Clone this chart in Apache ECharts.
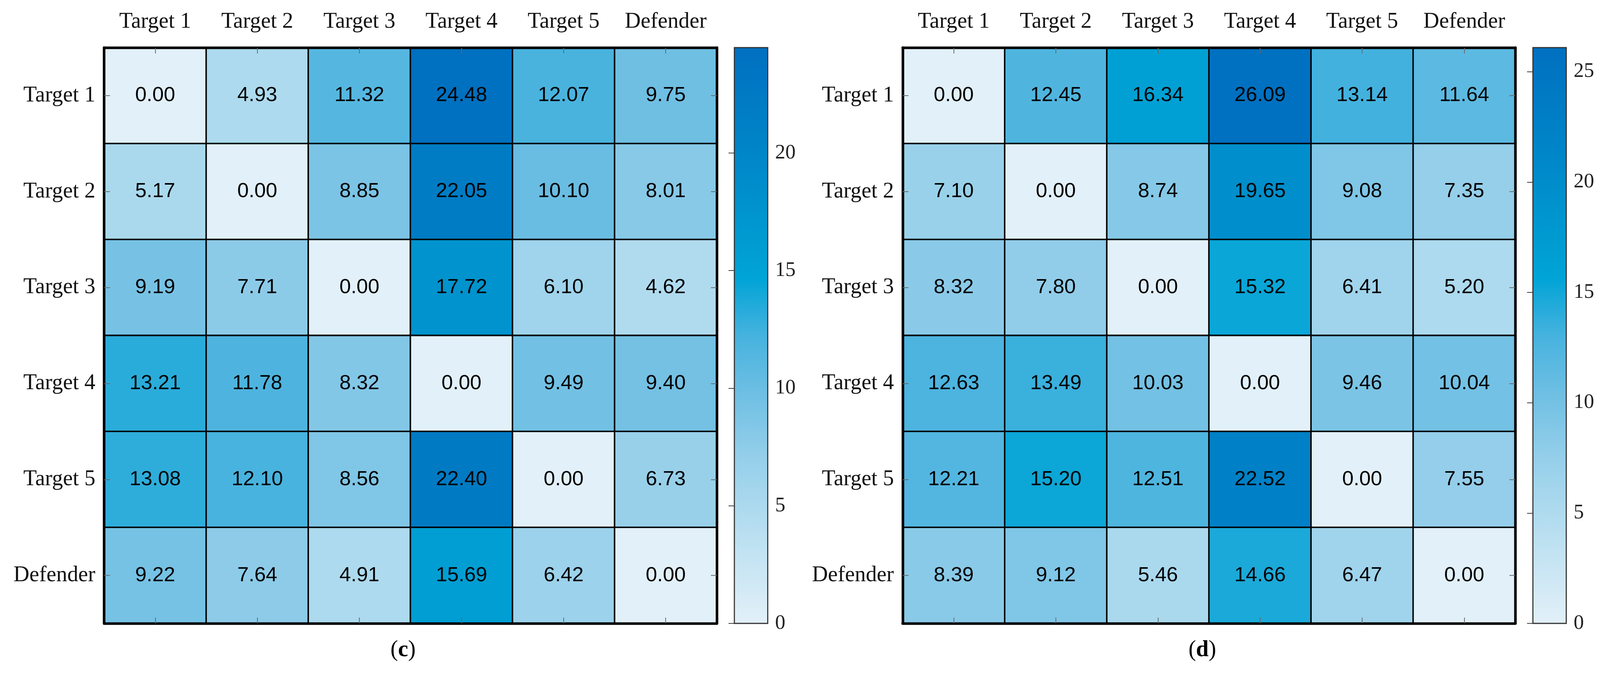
<!DOCTYPE html>
<html>
<head>
<meta charset="utf-8">
<script src="https://cdn.jsdelivr.net/npm/echarts@6/dist/echarts.min.js"></script>
<style>
html,body{margin:0;padding:0;background:#fff;overflow:hidden;}
#chart{width:100vw;height:100vh;}
</style>
</head>
<body>
<div id="chart"></div>
<script>
const categories = ['Target 1', 'Target 2', 'Target 3', 'Target 4', 'Target 5', 'Defender'];

const valuesC = [
  [0.00, 4.93, 11.32, 24.48, 12.07, 9.75],
  [5.17, 0.00, 8.85, 22.05, 10.10, 8.01],
  [9.19, 7.71, 0.00, 17.72, 6.10, 4.62],
  [13.21, 11.78, 8.32, 0.00, 9.49, 9.40],
  [13.08, 12.10, 8.56, 22.40, 0.00, 6.73],
  [9.22, 7.64, 4.91, 15.69, 6.42, 0.00]
];

const valuesD = [
  [0.00, 12.45, 16.34, 26.09, 13.14, 11.64],
  [7.10, 0.00, 8.74, 19.65, 9.08, 7.35],
  [8.32, 7.80, 0.00, 15.32, 6.41, 5.20],
  [12.63, 13.49, 10.03, 0.00, 9.46, 10.04],
  [12.21, 15.20, 12.51, 22.52, 0.00, 7.55],
  [8.39, 9.12, 5.46, 14.66, 6.47, 0.00]
];

const colorbarInterval = 5;
const panelTitles = ['c', 'd'];

const colorStops = ['#E2F0F9', '#C8E5F3', '#ADDAEE', '#91CDE9', '#6EBFE3', '#46B2DE',
                    '#00A4D6', '#0096CF', '#0088C9', '#007CC4', '#0070C0'];

function toCells(rows) {
  const out = [];
  rows.forEach((row, r) => row.forEach((v, c) => out.push([c, r, v])));
  return out;
}
function maxOf(rows) { return Math.max(...rows.flat()); }

const serif = 'Liberation Serif';
const sans = 'Liberation Sans';

const el = document.getElementById('chart');
const W = el.clientWidth || window.innerWidth;
const H = el.clientHeight || window.innerHeight;
const sx = W / 4364, sy = H / 1742, sf = Math.min(sx, sy);
const X = v => v * sx, Y = v => v * sy, F = v => v * sf;

const panels = [
  { data: valuesC, gridLeft: 284, barLeft: 2003, titleX: 1094 },
  { data: valuesD, gridLeft: 2462, barLeft: 4181, titleX: 3274 }
];
const gridTop = 122, gridW = 1671, gridH = 1475, barW = 91;

const option = {
  backgroundColor: '#fff',
  animation: false,
  title: [],
  grid: [],
  xAxis: [],
  yAxis: [],
  visualMap: [],
  series: []
};

panels.forEach((p, i) => {
  const gi = option.grid.length;
  option.grid.push({ left: X(p.gridLeft), top: Y(gridTop), width: X(gridW), height: Y(gridH) });
  option.grid.push({ left: X(p.barLeft), top: Y(gridTop), width: X(barW), height: Y(gridH),
    show: true, borderColor: '#333', borderWidth: F(3), backgroundColor: 'transparent', z: 10 });

  const frameLine = { show: true, onZero: false, lineStyle: { color: '#000', width: F(7) } };
  const tick = { show: true, inside: true, alignWithLabel: true, length: F(16), lineStyle: { color: '#666', width: F(2) } };
  const catLabel = { fontFamily: serif, fontSize: F(60), color: '#111' };

  const xTop = option.xAxis.length;
  option.xAxis.push({ type: 'category', gridIndex: gi, position: 'top', data: categories, z: 10,
    axisLine: frameLine, axisTick: tick, splitLine: { show: false },
    axisLabel: Object.assign({ margin: F(40), interval: 0 }, catLabel) });
  option.xAxis.push({ type: 'category', gridIndex: gi, position: 'bottom', data: categories, z: 10,
    axisLine: frameLine, axisTick: tick, axisLabel: { show: false }, splitLine: { show: false } });
  option.xAxis.push({ type: 'value', gridIndex: gi + 1, show: false, min: 0, max: 1 });

  const yLeft = option.yAxis.length;
  option.yAxis.push({ type: 'category', gridIndex: gi, position: 'left', inverse: true, data: categories, z: 10,
    axisLine: frameLine, axisTick: tick, splitLine: { show: false },
    axisLabel: Object.assign({ margin: F(24), interval: 0 }, catLabel) });
  option.yAxis.push({ type: 'category', gridIndex: gi, position: 'right', inverse: true, data: categories, z: 10,
    axisLine: frameLine, axisTick: tick, axisLabel: { show: false }, splitLine: { show: false } });
  const mx = maxOf(p.data);
  option.yAxis.push({ type: 'value', gridIndex: gi + 1, position: 'right', min: 0, max: mx, interval: colorbarInterval, z: 11,
    axisLine: { show: false }, splitLine: { show: false },
    axisTick: { show: true, inside: true, length: F(16), lineStyle: { color: '#333', width: F(2) } },
    axisLabel: { showMaxLabel: false, margin: F(20), fontFamily: serif, fontSize: F(56), color: '#222' } });

  const si = option.series.length;
  option.series.push({
    type: 'heatmap', xAxisIndex: xTop, yAxisIndex: yLeft, data: toCells(p.data),
    itemStyle: { borderColor: '#000', borderWidth: F(4) },
    label: { show: true, fontFamily: sans, fontSize: F(56), color: '#000',
      formatter: (d) => d.value[2].toFixed(2) },
    emphasis: { disabled: true }
  });

  option.visualMap.push({
    type: 'continuous', seriesIndex: si, min: 0, max: mx, calculable: false,
    orient: 'vertical', left: X(p.barLeft), top: Y(gridTop), padding: 0,
    itemWidth: X(barW), itemHeight: Y(gridH), text: null, showLabel: false,
    textStyle: { fontSize: 0 },
    inRange: { color: colorStops }
  });

  option.title.push({
    text: '({b|' + panelTitles[i] + '})',
    left: X(p.titleX), top: Y(1632), textAlign: 'center',
    textStyle: { fontFamily: serif, fontSize: F(62), fontWeight: 'normal', color: '#000',
      rich: { b: { fontFamily: serif, fontSize: F(62), fontWeight: 'bold', color: '#000' } } }
  });
});

const chart = echarts.init(el, null, { renderer: 'canvas' });
chart.setOption(option);
</script>
</body>
</html>
